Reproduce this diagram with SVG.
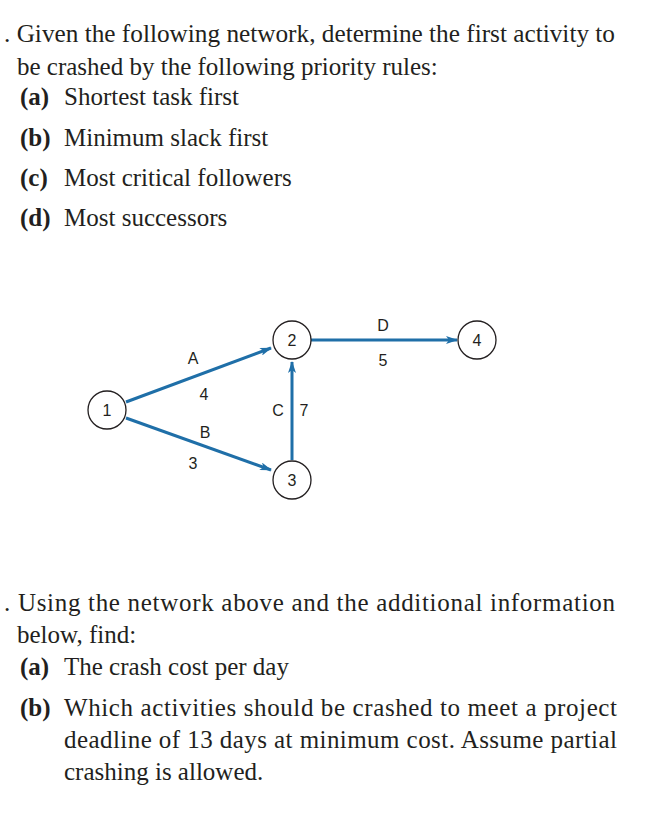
<svg xmlns="http://www.w3.org/2000/svg" width="665" height="820" viewBox="0 0 665 820">
<style>
.t{font-family:"Liberation Serif",serif;font-size:25px;fill:#231f20}
.b{font-weight:bold}
.n{font-family:"Liberation Sans",sans-serif;font-size:16px;fill:#231f20;text-anchor:middle}
circle{fill:#fff;stroke:#231f20;stroke-width:1.3}
.e{stroke:#1f6fa8;stroke-width:3;fill:none;marker-end:url(#ah)}
</style>
<defs><marker id="ah" markerWidth="12" markerHeight="8" refX="11" refY="4" orient="auto" markerUnits="userSpaceOnUse"><path d="M0,0 L12,4 L0,8 L3,4 Z" fill="#1f6fa8"/></marker></defs>
<rect width="665" height="820" fill="#fff"/>
<text class="t" x="4" y="42" textLength="611" lengthAdjust="spacingAndGlyphs">. Given the following network, determine the first activity to</text>
<text class="t" x="17" y="75">be crashed by the following priority rules:</text>
<text class="t" x="20" y="105"><tspan class="b">(a)</tspan><tspan x="64">Shortest task first</tspan></text>
<text class="t" x="20" y="146"><tspan class="b">(b)</tspan><tspan x="64">Minimum slack first</tspan></text>
<text class="t" x="20" y="186"><tspan class="b">(c)</tspan><tspan x="64">Most critical followers</tspan></text>
<text class="t" x="20" y="226"><tspan class="b">(d)</tspan><tspan x="64">Most successors</tspan></text>
<g id="connectors">
<line class="e" x1="126" y1="402" x2="271" y2="348"/>
<line class="e" x1="126" y1="418" x2="271" y2="470"/>
<line class="e" x1="292" y1="460" x2="292" y2="362"/>
<line class="e" x1="311" y1="340" x2="457" y2="340"/>
<text class="n" x="193" y="364">A</text><text class="n" x="204" y="400">4</text>
<text class="n" x="205" y="438">B</text><text class="n" x="193" y="469">3</text>
<text class="n" x="278" y="416">C</text><text class="n" x="304" y="416">7</text>
<text class="n" x="383" y="331">D</text><text class="n" x="383" y="366">5</text>
</g>
<g id="n1"><circle cx="107" cy="410" r="19"/><text class="n" x="107" y="416">1</text></g>
<g id="n2"><circle cx="292" cy="340" r="19"/><text class="n" x="292" y="346">2</text></g>
<g id="n3"><circle cx="292" cy="480" r="19"/><text class="n" x="292" y="486">3</text></g>
<g id="n4"><circle cx="477" cy="340" r="19"/><text class="n" x="477" y="346">4</text></g>
<text class="t" x="4" y="611" textLength="611" lengthAdjust="spacing">. Using the network above and the additional information</text>
<text class="t" x="17" y="643">below, find:</text>
<text class="t" x="20" y="675"><tspan class="b">(a)</tspan><tspan x="64">The crash cost per day</tspan></text>
<text class="t" x="20" y="716"><tspan class="b">(b)</tspan></text>
<text class="t" x="64" y="716" textLength="553" lengthAdjust="spacing">Which activities should be crashed to meet a project</text>
<text class="t" x="64" y="748" textLength="553" lengthAdjust="spacing">deadline of 13 days at minimum cost. Assume partial</text>
<text class="t" x="64" y="780">crashing is allowed.</text>
</svg>
